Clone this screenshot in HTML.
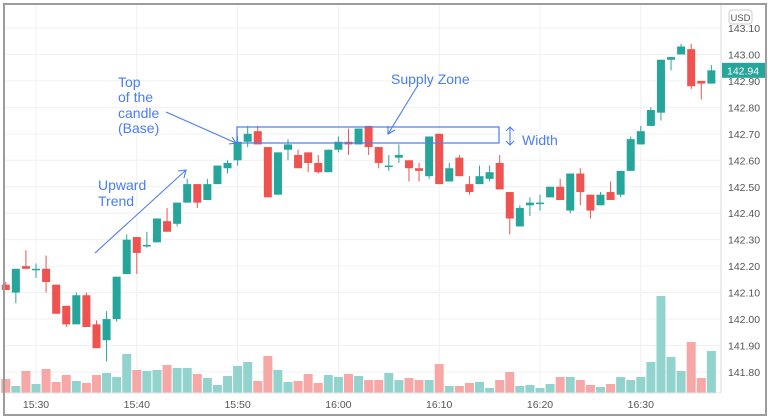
<!DOCTYPE html>
<html><head><meta charset="utf-8"><style>
html,body{margin:0;padding:0;background:#fff;}
svg{display:block;font-family:"Liberation Sans",sans-serif;}
</style></head><body>
<svg id="chart" width="768" height="420" viewBox="0 0 768 420" xmlns="http://www.w3.org/2000/svg">
<rect x="0" y="0" width="768" height="420" fill="#fff"/>
<g id="grid"></g>
<g id="volumes"></g>
<g id="candles"></g>
<g id="yaxis"></g>
<g id="xaxis"></g>
<g fill="#4a7cf3" font-size="14">
<rect x="237" y="127" width="262" height="16" fill="none" stroke="#4a7cf3" stroke-width="1.2"/>
<text x="118" y="87">Top</text>
<text x="118" y="102">of the</text>
<text x="118" y="118">candle</text>
<text x="118" y="133">(Base)</text>
<text x="391" y="84">Supply Zone</text>
<text x="522" y="145">Width</text>
<text x="98" y="190">Upward</text>
<text x="98" y="206">Trend</text>
<g stroke="#4a7cf3" stroke-width="1.1" fill="none">
<line x1="95" y1="253" x2="186" y2="170"/>
<polyline points="178,171 186,170 184,178"/>
<line x1="166" y1="112" x2="236" y2="143"/>
<polyline points="229,144 236,143 232,137"/>
<line x1="418" y1="85" x2="388" y2="134"/>
<polyline points="388,126 388,134 395,130"/>
<line x1="510" y1="127" x2="510" y2="145"/>
<polyline points="506,131 510,127 514,131"/>
<polyline points="506,141 510,145 514,141"/>
</g>
</g>
<rect x="4" y="4" width="762" height="411" fill="none" stroke="#9c9c9c" stroke-width="2"/>
</svg>
<script>
// minute offsets from 15:30
const minutes = [-3,-2,-1,0,1,2,3,4,5,6,7,8,9,10,11,12,13,14,15,16,17,18,19,20,21,22,23,24,25,26,27,28,29,30,31,32,33,34,35,36,37,38,39,40,41,42,43,44,45,46,47,48,49,50,51,52,53,54,55,56,57,58,59,60,61,62,63,64,65,66,67];
const opens = [142.13,142.10,142.20,142.19,142.19,142.13,142.05,141.98,142.09,141.98,141.92,142.00,142.17,142.31,142.28,142.29,142.37,142.36,142.44,142.51,142.45,142.51,142.57,142.60,142.67,142.71,142.65,142.47,142.64,142.62,142.63,142.59,142.555,142.64,142.67,142.66,142.73,142.65,142.58,142.61,142.60,142.57,142.54,142.70,142.52,142.61,142.51,142.51,142.53,142.59,142.48,142.35,142.43,142.44,142.46,142.50,142.41,142.55,142.47,142.43,142.48,142.47,142.56,142.66,142.73,142.78,142.98,143.00,143.02,142.90,142.89];
const highs = [142.14,142.19,142.26,142.21,142.24,142.13,142.05,142.10,142.10,141.995,142.03,142.16,142.32,142.31,142.33,142.38,142.42,142.44,142.53,142.51,142.53,142.58,142.60,142.69,142.73,142.73,142.65,142.63,142.68,142.64,142.63,142.62,142.64,142.69,142.72,142.72,142.73,142.65,142.62,142.66,142.60,142.59,142.69,142.70,142.59,142.62,142.54,142.58,142.58,142.62,142.48,142.43,142.46,142.47,142.50,142.53,142.55,142.57,142.47,142.48,142.52,142.56,142.69,142.73,142.80,142.98,142.99,143.04,143.04,142.90,142.96];
const lows = [142.11,142.06,142.19,142.155,142.10,142.02,141.97,141.98,141.97,141.89,141.84,141.99,142.17,142.17,142.27,142.29,142.33,142.35,142.44,142.42,142.45,142.51,142.55,142.58,142.65,142.66,142.46,142.47,142.60,142.57,142.555,142.55,142.555,142.63,142.62,142.66,142.62,142.57,142.56,142.59,142.52,142.52,142.53,142.51,142.52,142.54,142.47,142.51,142.52,142.49,142.32,142.35,142.39,142.41,142.46,142.45,142.40,142.43,142.38,142.43,142.45,142.46,142.56,142.66,142.73,142.75,142.94,143.00,142.87,142.83,142.89];
const closes = [142.11,142.19,142.19,142.19,142.14,142.02,141.98,142.09,141.97,141.89,142.00,142.16,142.30,142.25,142.28,142.38,142.33,142.44,142.51,142.44,142.51,142.58,142.59,142.67,142.70,142.66,142.46,142.63,142.66,142.57,142.59,142.555,142.64,142.67,142.66,142.72,142.65,142.59,142.58,142.62,142.57,142.56,142.69,142.51,142.57,142.54,142.48,142.54,142.555,142.49,142.38,142.42,142.44,142.44,142.50,142.45,142.55,142.48,142.41,142.47,142.45,142.56,142.68,142.71,142.79,142.98,142.99,143.03,142.88,142.89,142.94];
const volumes = [14,7,22,9,24,11,18,12,10,18,20,16,39,23,22,23,28,25,25,19,15,8,17,27,31,12,37,23,11,12,19,10,18,16,19,17,13,13,20,13,15,13,13,29,7,7,10,11,5,13,21,7,8,5,9,16,16,13,8,6,9,16,13,16,31,97,36,22,51,15,42];
const priceTicks = [143.10,143.00,142.90,142.80,142.70,142.60,142.50,142.40,142.30,142.20,142.10,142.00,141.90,141.80];
const timeTicks = [0,10,20,30,40,50,60];
const timeLabels = ["15:30","15:40","15:50","16:00","16:10","16:20","16:30"];
const lastPrice = 142.94;

const NS = "http://www.w3.org/2000/svg";
const PLOT_L = 5, PLOT_R = 721, PLOT_T = 5, PLOT_B = 393;
function yScale(p){ return 28 + (143.10 - p) * 264.6; }
function xScale(m){ return 36 + m * 10.08; }
function vScale(v){ return 393 - v; }
function mk(tag, attrs, parent){
  const e = document.createElementNS(NS, tag);
  for (const k in attrs) e.setAttribute(k, attrs[k]);
  parent.appendChild(e); return e;
}
const grid = document.getElementById('grid');
const yaxis = document.getElementById('yaxis');
const xaxis = document.getElementById('xaxis');
priceTicks.forEach(p => {
  const l = mk('line', {x1:PLOT_L, x2:PLOT_R, y1:yScale(p), y2:yScale(p), stroke:'#eef0f5', 'stroke-width':1}, grid);
  
  
  const t = mk('text', {x:728, y:yScale(p)+4, 'font-size':10.5, fill:'#555'}, yaxis);
  
  
  t.textContent = p.toFixed(2);
});
timeTicks.forEach((m, i) => {
  const l = mk('line', {x1:xScale(m), x2:xScale(m), y1:PLOT_T, y2:PLOT_B, stroke:'#eef0f5', 'stroke-width':1}, grid);
  
  
  const t = mk('text', {x:xScale(m), y:408, 'font-size':10.5, fill:'#555', 'text-anchor':'middle'}, xaxis);
  
  
  t.textContent = timeLabels[i];
});
const ax = mk('line', {x1:PLOT_R, x2:PLOT_R, y1:PLOT_T, y2:PLOT_B, stroke:'#d8dbe2', 'stroke-width':1}, yaxis);


const ax2 = mk('line', {x1:PLOT_L, x2:PLOT_R, y1:PLOT_B, y2:PLOT_B, stroke:'#e3e5ea', 'stroke-width':1}, xaxis);



const vg = document.getElementById('volumes');
const cg = document.getElementById('candles');
minutes.forEach((m, i) => {
  const up = closes[i] >= opens[i];
  const x = xScale(m);
  const vb = mk('rect', {x:x-4.5, y:vScale(volumes[i]), width:9, height:volumes[i], fill: up ? '#92d4cd' : '#f7a7a5'}, vg);
  
  
  const col = up ? '#26a69a' : '#ef5350';
  const w = mk('line', {x1:x, x2:x, y1:yScale(highs[i]), y2:yScale(lows[i]), stroke:col, 'stroke-width':1}, cg);
  
  
  const top = yScale(Math.max(opens[i], closes[i]));
  const h = Math.max(1.5, Math.abs(yScale(opens[i]) - yScale(closes[i])));
  const b = mk('rect', {x:x-4, y:top, width:8, height:h, fill:col}, cg);
  
  
});
// USD badge
const usd = mk('rect', {x:729, y:10, width:23, height:14, rx:3, fill:'#fff', stroke:'#ccc'}, yaxis);


const ut = mk('text', {x:740.5, y:21, 'font-size':9.5, fill:'#555', 'text-anchor':'middle'}, yaxis);


ut.textContent = 'USD';
// last price tag
const ly = yScale(lastPrice);
const lp = mk('rect', {x:722, y:ly-7.5, width:45, height:15, fill:'#26a69a'}, yaxis);


const lt = mk('text', {x:727, y:ly+4, 'font-size':10.5, fill:'#fff'}, yaxis);


lt.textContent = lastPrice.toFixed(2);
</script>
</body></html>
